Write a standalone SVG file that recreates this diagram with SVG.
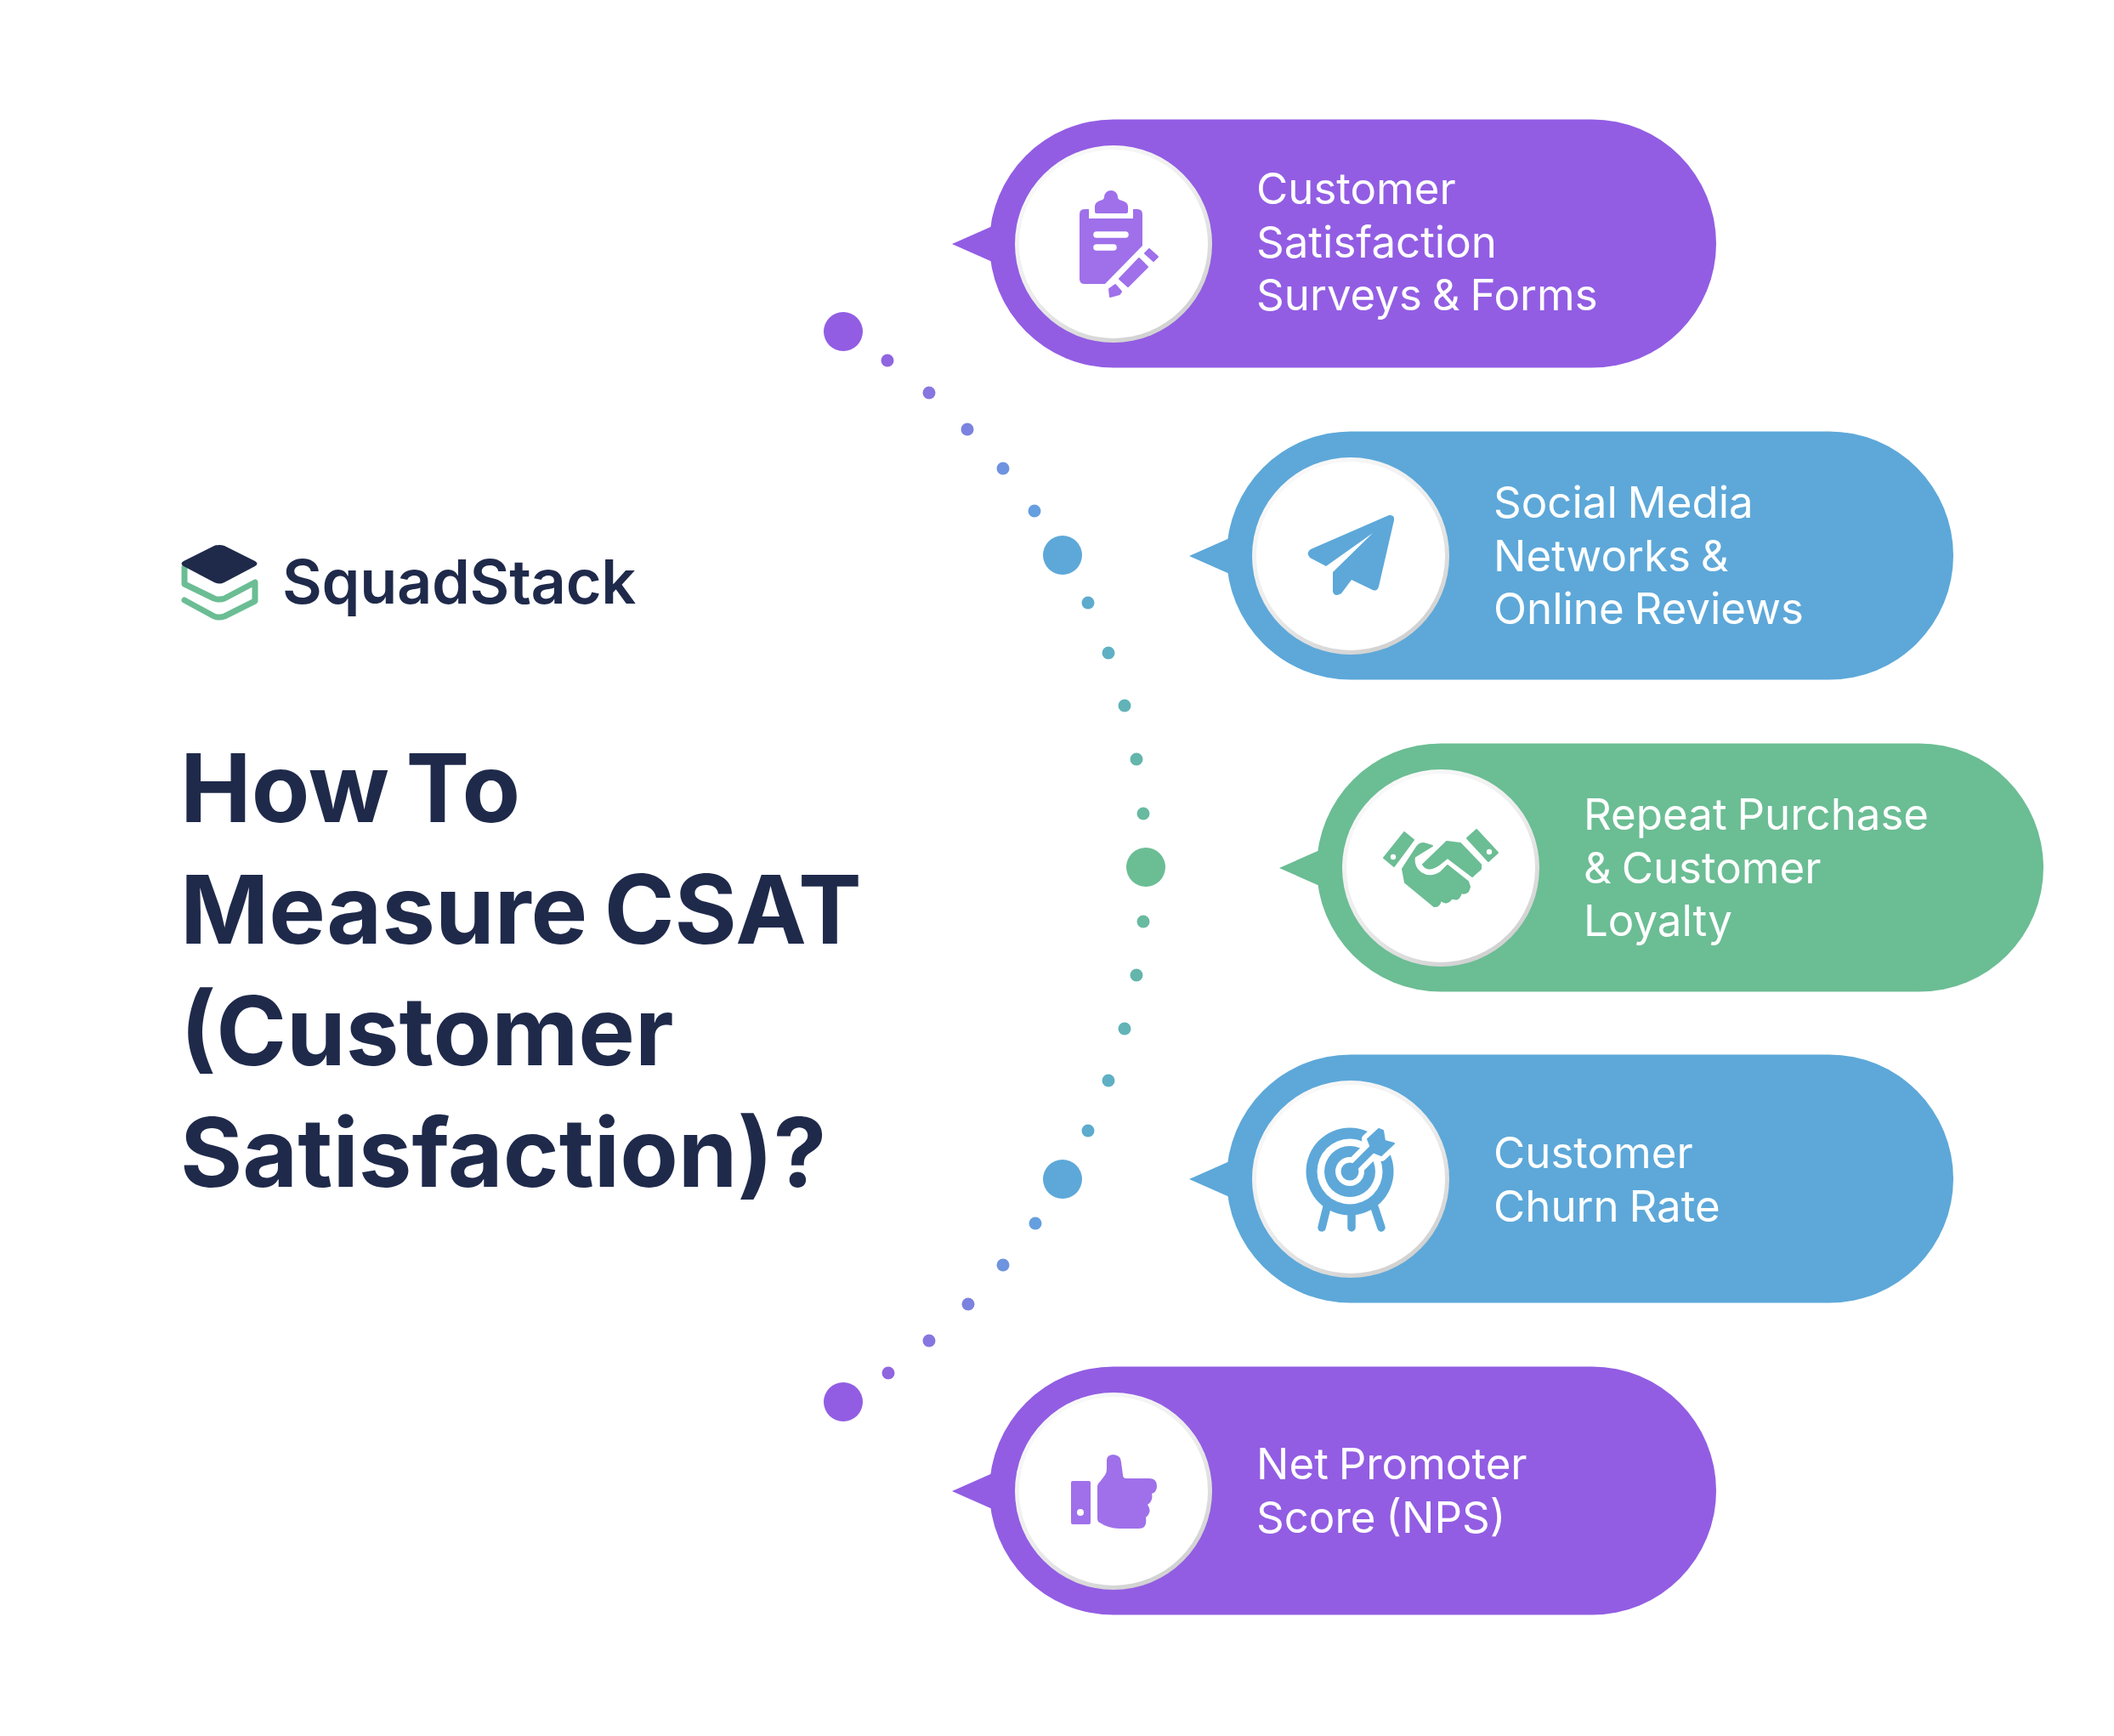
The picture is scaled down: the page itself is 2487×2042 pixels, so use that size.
<svg xmlns="http://www.w3.org/2000/svg" width="2487" height="2042" viewBox="0 0 2487 2042">
<style>
text{font-family:"Inter","Liberation Sans",sans-serif}
.lbl{font-size:51px;fill:#fff;font-weight:400;word-spacing:-2.5px}
.ttl{font-size:112px;fill:#1f2a4b;font-weight:700;word-spacing:-7px}
.logo{font-size:72px;fill:#1f2a4b;font-weight:600;letter-spacing:-0.3px}
.p{fill:#925de3}.b{fill:#5da8d9}.g{fill:#6bbd94}
.pi{fill:#9f70ea}
.ring{fill:url(#ringGrad)}
.w{fill:#fff}
.wl{stroke:#fff;stroke-linecap:round;fill:none}
</style>
<defs>
<linearGradient id="ringGrad" x1="0.25" y1="0.1" x2="0.75" y2="0.9"><stop offset="0" stop-color="#f8f8f8"/><stop offset="0.5" stop-color="#ececec"/><stop offset="1" stop-color="#d2d2d2"/></linearGradient>
</defs>
<rect width="2487" height="2042" fill="#fff"/>
<g id="logo">
<path d="M217,667V687L252,704Q258,706 264,704L300,685V707L264,725Q258,727 252,725L217,706" fill="none" stroke="#6bbd94" stroke-width="7" stroke-linecap="round" stroke-linejoin="round"/>
<path d="M252,642Q258,640 264,642L300,660Q305,663 300,666L264,685Q258,688 252,685L216,666Q211,663 216,660Z" fill="#1f2a4b"/>
<text class="logo" x="332" y="710">SquadStack</text>
</g>
<g id="title">
<text class="ttl" x="212" y="967">How To</text>
<text class="ttl" x="212" y="1110">Measure CSAT</text>
<text class="ttl" x="212" y="1253">(Customer</text>
<text class="ttl" x="212" y="1396">Satisfaction)?</text>
</g>
<g id="connectors">
<circle cx="992" cy="390" r="23" fill="#925de3"/>
<circle cx="1250" cy="653" r="23" fill="#5da8d9"/>
<circle cx="1348" cy="1020" r="23" fill="#6bbd94"/>
<circle cx="1250" cy="1387" r="23" fill="#5da8d9"/>
<circle cx="992" cy="1649" r="23" fill="#925de3"/>
<circle cx="1044" cy="424" r="7.5" fill="#8f65e0"/>
<circle cx="1093" cy="462" r="7.5" fill="#8676df"/>
<circle cx="1138" cy="505" r="7.5" fill="#7b82df"/>
<circle cx="1180" cy="551" r="7.5" fill="#6e93df"/>
<circle cx="1217" cy="601" r="7.5" fill="#659fdf"/>
<circle cx="1280" cy="709" r="7.5" fill="#5dabcd"/>
<circle cx="1304" cy="768" r="7.5" fill="#5fb0c4"/>
<circle cx="1323" cy="830" r="7.5" fill="#61b3b7"/>
<circle cx="1337" cy="893" r="7.5" fill="#64b5ab"/>
<circle cx="1345" cy="957" r="7.5" fill="#68baa0"/>
<circle cx="1345" cy="1084" r="7.5" fill="#68baa0"/>
<circle cx="1337" cy="1147" r="7.5" fill="#64b5ab"/>
<circle cx="1323" cy="1210" r="7.5" fill="#61b3b7"/>
<circle cx="1304" cy="1271" r="7.5" fill="#5fb0c4"/>
<circle cx="1280" cy="1330" r="7.5" fill="#5dabcd"/>
<circle cx="1218" cy="1439" r="7.5" fill="#659fdf"/>
<circle cx="1180" cy="1488" r="7.5" fill="#6e93df"/>
<circle cx="1139" cy="1534" r="7.5" fill="#7b82df"/>
<circle cx="1093" cy="1577" r="7.5" fill="#8676df"/>
<circle cx="1045" cy="1615" r="7.5" fill="#8f65e0"/>
</g>
<g id="node-surveys">
<rect class="p" x="1164" y="140.5" width="855" height="292" rx="146"/>
<path class="p" d="M1120,287L1172,264V310Z"/>
<circle class="ring" cx="1310" cy="287" r="116"/><circle class="w" cx="1310" cy="287" r="111"/>
<path class="pi" d="M1276,246H1281V257H1333V246H1338Q1344,246 1344,252V289L1300,334H1276Q1270,334 1270,328V252Q1270,246 1276,246Z"/>
<path class="pi" d="M1290,251Q1288,251 1288,249V243Q1288,238 1294,236L1297,235Q1299,234 1299,232A8,8 0 0 1 1315,232Q1315,234 1317,235L1320,236Q1327,238 1327,243V249Q1327,251 1325,251Z"/>
<path class="wl" stroke-width="7.5" d="M1290,276H1324M1290,291H1310"/>
<g class="pi" stroke="#9f70ea" stroke-width="2" stroke-linejoin="round">
<path d="M1340,304L1350,314L1327,337L1317,328Z"/>
<path d="M1352,293L1362,302L1357,307L1347,298Z"/>
<path d="M1312,335L1319,343L1317,346L1306,349L1305,340Z"/>
</g>
<text class="lbl" x="1478" y="240">Customer</text>
<text class="lbl" x="1478" y="302.5">Satisfaction</text>
<text class="lbl" x="1478" y="365">Surveys &amp; Forms</text>
</g>
<g id="node-social">
<rect class="b" x="1443" y="507.5" width="855" height="292" rx="146"/>
<path class="b" d="M1399,654L1451,631V677Z"/>
<circle class="ring" cx="1589" cy="654" r="116"/><circle class="w" cx="1589" cy="654" r="111"/>
<path class="b" d="M1634,606Q1641,605 1640,612L1622,690Q1620,696 1615,694L1590,682L1578,698Q1570,703 1568,696V673L1615,627L1560,666L1541,656Q1536,650 1542,646Z"/>
<text class="lbl" x="1757" y="609">Social Media</text>
<text class="lbl" x="1757" y="671.5">Networks &amp;</text>
<text class="lbl" x="1757" y="734">Online Reviews</text>
</g>
<g id="node-repeat">
<rect class="g" x="1549" y="874.5" width="855" height="292" rx="146"/>
<path class="g" d="M1505,1021L1557,998V1044Z"/>
<circle class="ring" cx="1695" cy="1021" r="116"/><circle class="w" cx="1695" cy="1021" r="111"/>
<g class="g" stroke="#6bbd94" stroke-width="2" stroke-linejoin="round">
<path d="M1652,979L1663,988L1640,1019L1628,1009Z"/>
<path d="M1737,976L1762,1003L1751,1013L1726,986Z"/>
<path d="M1702,990L1718,992L1742,1017V1022L1732,1031L1703,1009L1693,1017Q1680,1026 1674,1017Z"/>
<path d="M1685,995L1675,992Q1670,992 1667,996L1650,1022L1653,1038L1687,1066Q1693,1067 1695,1059Q1703,1065 1708,1056Q1716,1061 1719,1050Q1727,1053 1729,1043L1727,1037L1703,1018L1695,1026Q1683,1034 1672,1027Q1662,1020 1664,1008Z"/>
</g>
<circle class="w" cx="1639" cy="1008" r="3.2"/><circle class="w" cx="1752" cy="1002" r="3.2"/>
<text class="lbl" x="1863" y="976">Repeat Purchase</text>
<text class="lbl" x="1863" y="1038.5">&amp; Customer</text>
<text class="lbl" x="1863" y="1101">Loyalty</text>
</g>
<g id="node-churn">
<rect class="b" x="1443" y="1240.5" width="855" height="292" rx="146"/>
<path class="b" d="M1399,1387L1451,1364V1410Z"/>
<circle class="ring" cx="1589" cy="1387" r="116"/><circle class="w" cx="1589" cy="1387" r="111"/>
<path stroke="#5da8d9" stroke-width="9.5" stroke-linecap="round" fill="none" d="M1561,1420L1555,1444M1590,1425V1444M1617,1420L1625,1444"/>
<circle class="b" cx="1588" cy="1378" r="51.5"/><circle class="w" cx="1588" cy="1378" r="38.5"/>
<circle class="b" cx="1588" cy="1378" r="30"/><circle class="w" cx="1588" cy="1378" r="17"/>
<path d="M1590,1376L1618,1348" stroke="#fff" stroke-width="22" fill="none"/>
<path d="M1622,1327L1627,1329L1629,1342L1641,1345L1625,1360L1615,1355L1608,1340Z" fill="#5da8d9" stroke="#fff" stroke-width="12" stroke-linejoin="round"/>
<circle class="b" cx="1588" cy="1378" r="10.5"/>
<path d="M1590,1376L1618,1348" stroke="#5da8d9" stroke-width="9" fill="none"/>
<path class="b" stroke="#5da8d9" stroke-width="2" stroke-linejoin="round" d="M1622,1328L1627,1330L1629,1342L1640,1345L1625,1359L1615,1355L1609,1340Z"/>
<text class="lbl" x="1757" y="1374">Customer</text>
<text class="lbl" x="1757" y="1436.5">Churn Rate</text>
</g>
<g id="node-nps">
<rect class="p" x="1164" y="1607.5" width="855" height="292" rx="146"/>
<path class="p" d="M1120,1754L1172,1731V1777Z"/>
<circle class="ring" cx="1310" cy="1754" r="116"/><circle class="w" cx="1310" cy="1754" r="111"/>
<rect class="pi" x="1260" y="1742" width="23" height="51" rx="2"/>
<circle class="w" cx="1271" cy="1779" r="4"/>
<path class="pi" d="M1291,1748Q1291,1745 1294,1743L1300,1735Q1302,1732 1302,1728V1718Q1302,1711 1310,1711Q1319,1712 1319,1720L1321,1735Q1321,1739 1325,1739H1352Q1361,1739 1361,1748Q1361,1755 1355,1757Q1357,1765 1350,1770Q1356,1778 1348,1785Q1350,1798 1340,1798H1317Q1304,1798 1292,1790Q1291,1788 1291,1786Z"/>
<text class="lbl" x="1478" y="1740">Net Promoter</text>
<text class="lbl" x="1478" y="1802.5">Score (NPS)</text>
</g>
</svg>
